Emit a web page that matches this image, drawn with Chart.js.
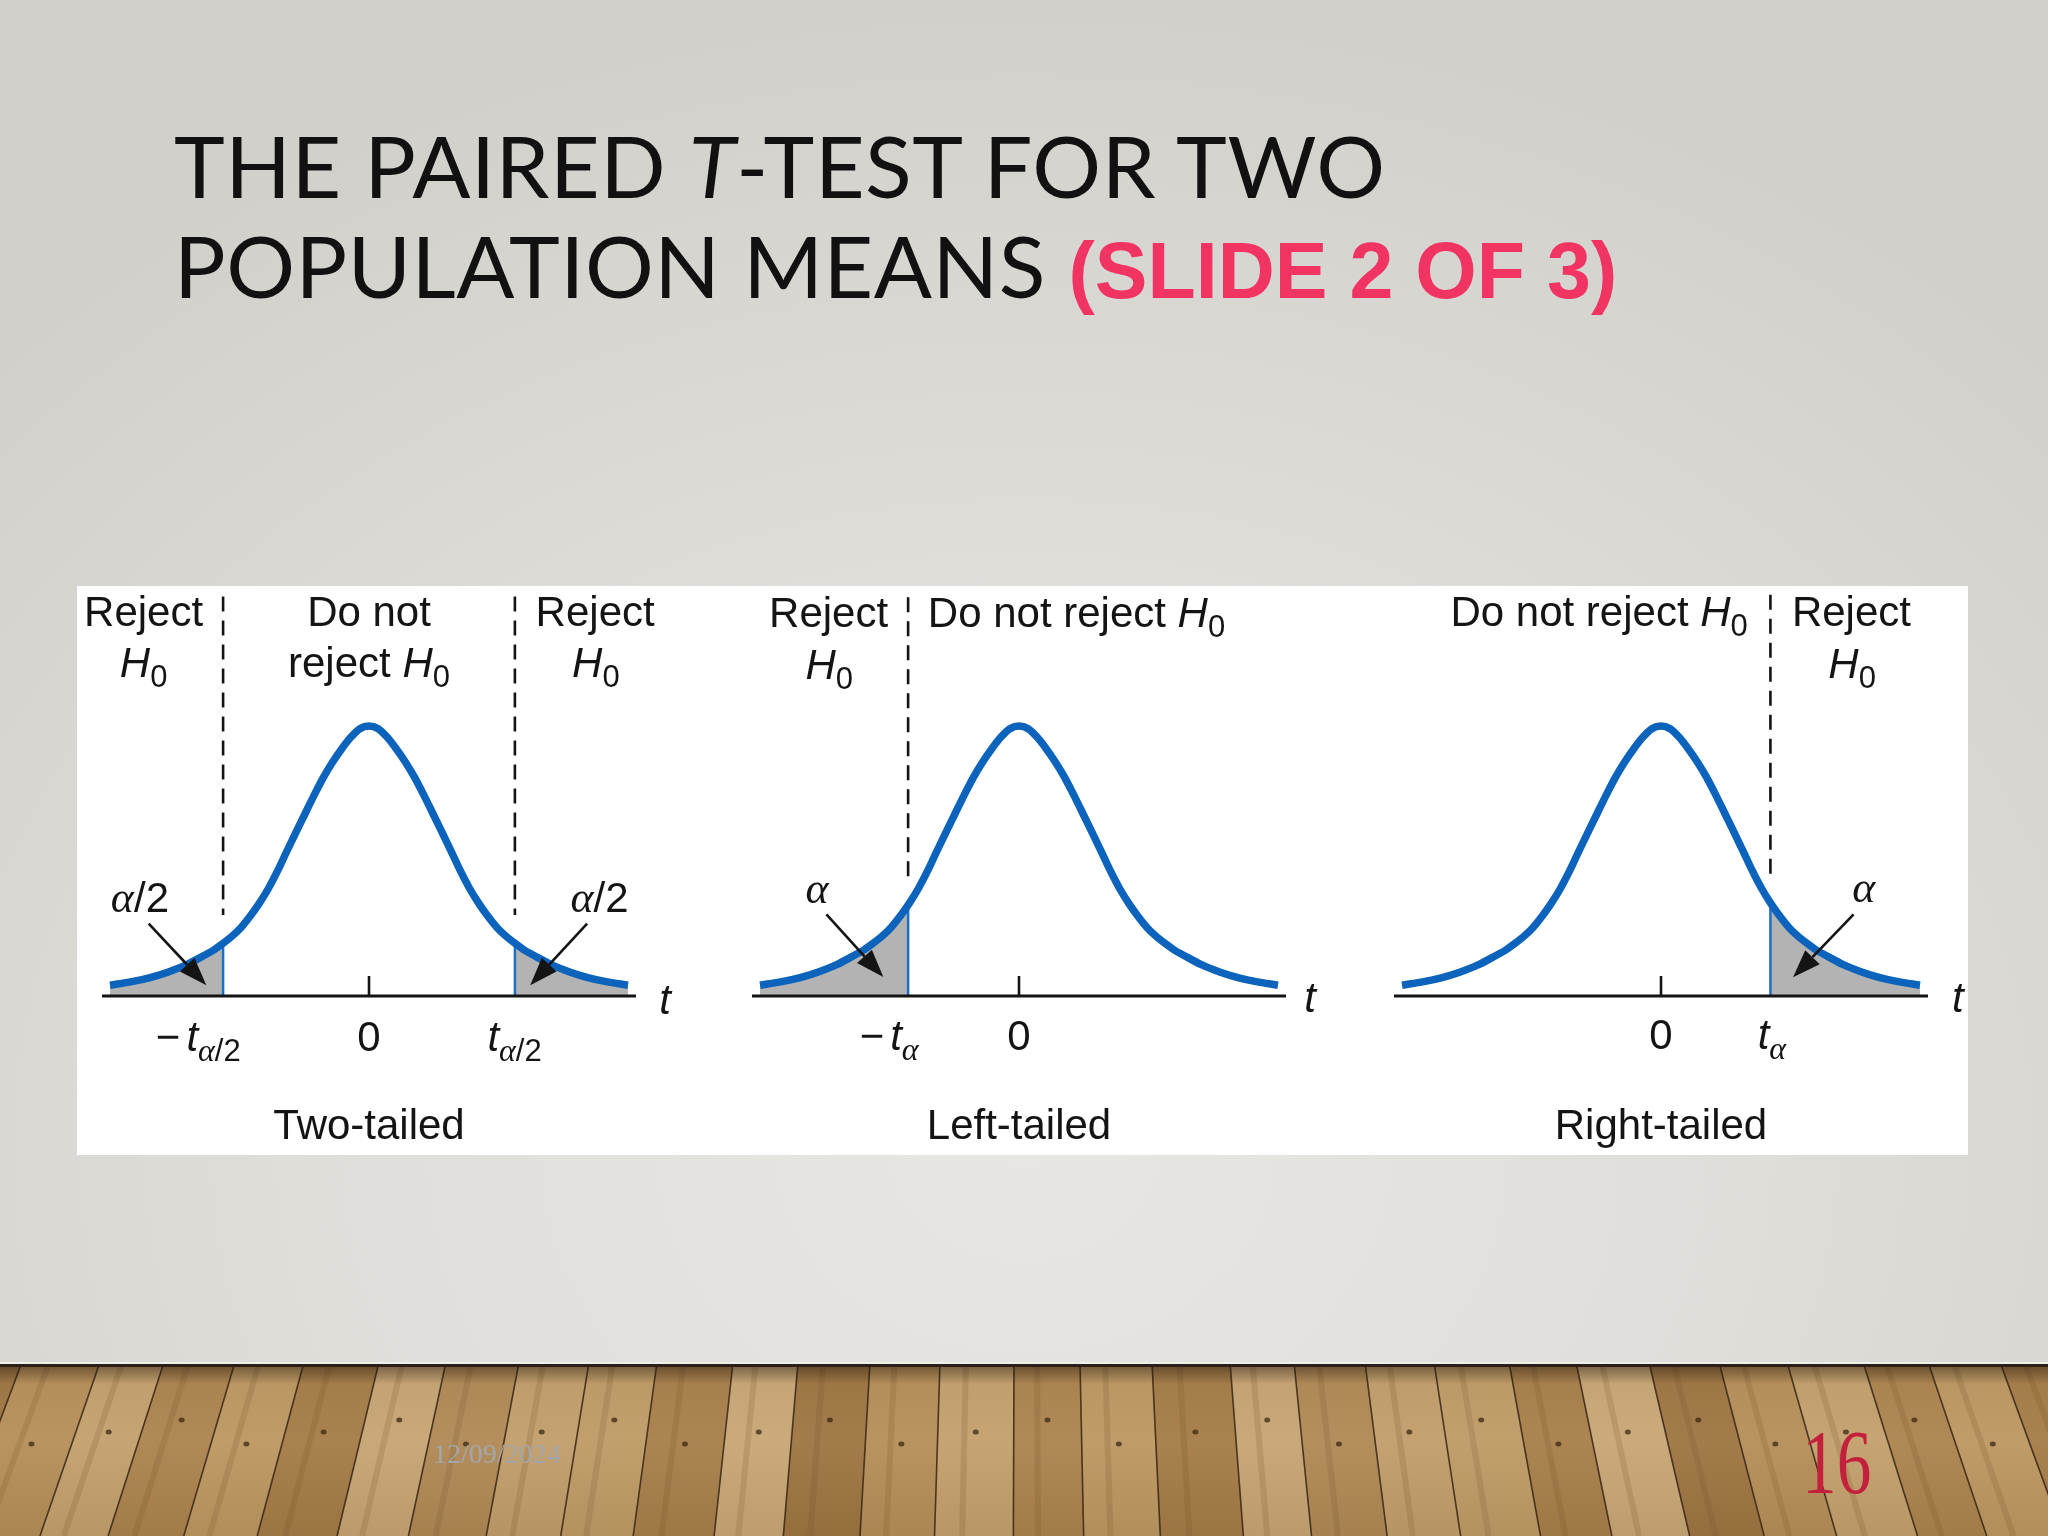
<!DOCTYPE html>
<html><head><meta charset="utf-8">
<script src="https://cdn.jsdelivr.net/npm/chart.js@4.4.1/dist/chart.umd.min.js"></script>
<style>
html,body{margin:0;padding:0;}
body{width:2048px;height:1536px;position:relative;overflow:hidden;
 background: radial-gradient(ellipse 70% 75% at 50% 75%, #e8e6e2 0%, #e1dfdb 45%, #d2d0cb 100%);}
.tl{position:absolute;left:174px;font-family:Lato,'Open Sans',sans-serif;font-size:86px;line-height:86px;color:#111;white-space:nowrap;}
.bk{letter-spacing:0.55px;}
.red{font-family:'Liberation Sans',Arial,sans-serif;font-weight:bold;font-size:79px;color:#f23462;letter-spacing:0;}
#panel{position:absolute;left:77px;top:586px;width:1891px;height:569px;background:#fff;}
canvas.ch{position:absolute;top:586px;}
#floor{position:absolute;left:0;top:1362px;}
#date{position:absolute;left:433px;top:1440px;font-family:'Liberation Serif',serif;font-size:28px;line-height:28px;color:#a3a7ab;}
#page{position:absolute;left:1802px;top:1418px;font-family:'Liberation Serif',serif;font-size:90px;line-height:90px;color:#c41f3c;transform:scaleX(0.77);transform-origin:left top;}
</style></head>
<body>
<div class="tl bk" id="t1" style="top:122px">THE PAIRED <i>T</i>-TEST FOR TWO</div>
<div class="tl" id="t2" style="top:222px"><span class="bk">POPULATION MEANS </span><span class="red">(SLIDE 2 OF 3)</span></div>
<div id="panel"></div>
<canvas class="ch" id="c1" width="640" height="569" style="left:72px"></canvas>
<canvas class="ch" id="c2" width="640" height="569" style="left:722px"></canvas>
<canvas class="ch" id="c3" width="640" height="569" style="left:1364px"></canvas>
<canvas id="floor" width="2048" height="174"></canvas>
<div id="date">12/09/2024</div>
<div id="page">16</div>
<script>
// ---- data (t-distribution curve, relative height) ----
const curveX = [-3.55,-3.25,-3,-2.75,-2.5,-2.25,-2.125,-2,-1.875,-1.75,-1.625,-1.5,-1.375,-1.25,-1.125,-1,-0.875,-0.75,-0.625,-0.5,-0.375,-0.25,-0.125,
                0,0.125,0.25,0.375,0.5,0.625,0.75,0.875,1,1.125,1.25,1.375,1.5,1.625,1.75,1.875,2,2.125,2.25,2.5,2.75,3,3.25,3.55];
const curveY = [0.040,0.053,0.068,0.089,0.116,0.152,0.171,0.195,0.222,0.255,0.297,0.345,0.400,0.465,0.537,0.607,0.676,0.745,0.810,0.866,0.915,0.958,0.990,
                1.000,0.990,0.958,0.915,0.866,0.810,0.745,0.676,0.607,0.537,0.465,0.400,0.345,0.297,0.255,0.222,0.195,0.171,0.152,0.116,0.089,0.068,0.053,0.040];
const chartNames = ['Two-tailed','Left-tailed','Right-tailed'];
const critValues = [[-2.0, 2.0], [-1.52], [1.50]];
const critHeights = [[0.188, 0.188], [0.333], [0.335]];
const dashTops = [[1.48, 1.48], [1.477], [1.486]];
const dashBottoms = [[0.30, 0.30], [0.439], [0.439]];
const axisRange = [-3.66, 3.66];
const tickLabels = [['−tα/2','0','tα/2'], ['−tα','0'], ['0','tα']];

const BLUE = '#0b63bc', INK = '#141414';
const SANS = "'Liberation Sans', Arial, sans-serif";
const SERIF = "'Liberation Serif', 'Times New Roman', serif";

function pts(xs, ys){ return xs.map((x,i)=>({x:x, y:ys[i]})); }

// tail area: curve points beyond the critical value plus the curve height at it
function tail(c, h){
  const left = c < 0;
  const p = [];
  curveX.forEach((x,i)=>{ if (left ? x < c - 0.01 : x > c + 0.01) p.push({x:x, y:curveY[i]}); });
  if (left) p.push({x:c, y:h}); else p.unshift({x:c, y:h});
  return p;
}

// ---- rich text annotations (layout) ----
const F = {
  r: '42px ' + SANS, i: 'italic 42px ' + SANS, a: 'italic 44px ' + SERIF,
  sr: '31px ' + SANS, si: 'italic 32px ' + SERIF
};
const SUB = 10;
const H0 = [{t:'H', f:'i'}, {t:'0', f:'sr', sub:1}];
const notesFor = [
  { texts: [
      {x:-3.09, y:1.370, s:[{t:'Reject', f:'r'}]},
      {x:-3.09, y:1.181, s:H0},
      {x:0, y:1.370, s:[{t:'Do not', f:'r'}]},
      {x:0, y:1.181, s:[{t:'reject ', f:'r'}].concat(H0)},
      {x:3.10, y:1.370, s:[{t:'Reject', f:'r'}]},
      {x:3.11, y:1.181, s:H0},
      {x:-3.14, y:0.311, s:[{t:'α', f:'a'}, {t:'/2', f:'r'}]},
      {x:3.16, y:0.311, s:[{t:'α', f:'a'}, {t:'/2', f:'r'}]},
      {x:-2.34, y:-0.204, s:[{t:'−', f:'r', gap:6}, {t:'t', f:'i'}, {t:'α', f:'si', sub:1}, {t:'/2', f:'sr', sub:1}]},
      {x:0, y:-0.204, s:[{t:'0', f:'r'}]},
      {x:1.995, y:-0.204, s:[{t:'t', f:'i'}, {t:'α', f:'si', sub:1}, {t:'/2', f:'sr', sub:1}]},
      {x:4.06, y:-0.065, s:[{t:'t', f:'i'}]}
    ],
    arrows: [[-3.02,0.268,-2.23,0.040],[2.99,0.268,2.21,0.040]] },
  { texts: [
      {x:-2.61, y:1.367, s:[{t:'Reject', f:'r'}]},
      {x:-2.60, y:1.175, s:H0},
      {x:-1.25, y:1.367, align:'left', s:[{t:'Do not reject ', f:'r'}].concat(H0)},
      {x:-2.77, y:0.344, s:[{t:'α', f:'a'}]},
      {x:-1.78, y:-0.200, s:[{t:'−', f:'r', gap:6}, {t:'t', f:'i'}, {t:'α', f:'si', sub:1}]},
      {x:0, y:-0.200, s:[{t:'0', f:'r'}]},
      {x:3.99, y:-0.060, s:[{t:'t', f:'i'}]}
    ],
    arrows: [[-2.64,0.302,-1.86,0.070]] },
  { texts: [
      {x:1.19, y:1.370, align:'right', s:[{t:'Do not reject ', f:'r'}].concat(H0)},
      {x:2.61, y:1.370, s:[{t:'Reject', f:'r'}]},
      {x:2.62, y:1.178, s:H0},
      {x:2.78, y:0.350, s:[{t:'α', f:'a'}]},
      {x:0, y:-0.196, s:[{t:'0', f:'r'}]},
      {x:1.52, y:-0.196, s:[{t:'t', f:'i'}, {t:'α', f:'si', sub:1}]},
      {x:4.07, y:-0.060, s:[{t:'t', f:'i'}]}
    ],
    arrows: [[2.64,0.302,1.81,0.069]] }
];

function drawRich(ctx, x, y, segs, align){
  let w = 0;
  const ws = segs.map(s=>{ ctx.font = F[s.f]; const m = ctx.measureText(s.t).width + (s.gap || 0); w += m; return m; });
  let sx = align === 'left' ? x : align === 'right' ? x - w : x - w/2;
  segs.forEach((s,i)=>{ ctx.font = F[s.f]; ctx.fillText(s.t, sx, y + (s.sub ? SUB : 0)); sx += ws[i]; });
}

const notesPlugin = {
  id: 'notes',
  afterDraw(chart){
    const n = chart.options.plugins.notes;
    const ctx = chart.ctx, xs = chart.scales.x, ys = chart.scales.y;
    ctx.save();
    ctx.fillStyle = INK; ctx.strokeStyle = INK; ctx.textBaseline = 'alphabetic'; ctx.textAlign = 'left';
    n.texts.forEach(t=>drawRich(ctx, xs.getPixelForValue(t.x), ys.getPixelForValue(t.y), t.s, t.align));
    n.arrows.forEach(a=>{
      const x1 = xs.getPixelForValue(a[0]), y1 = ys.getPixelForValue(a[1]);
      const x2 = xs.getPixelForValue(a[2]), y2 = ys.getPixelForValue(a[3]);
      const ang = Math.atan2(y2-y1, x2-x1), L = 28, W = 10;
      const bx = x2 - L*Math.cos(ang), by = y2 - L*Math.sin(ang);
      ctx.lineWidth = 2.6;
      ctx.beginPath(); ctx.moveTo(x1,y1); ctx.lineTo(bx,by); ctx.stroke();
      ctx.beginPath(); ctx.moveTo(x2,y2);
      ctx.lineTo(bx + W*Math.sin(ang), by - W*Math.cos(ang));
      ctx.lineTo(bx - W*Math.sin(ang), by + W*Math.cos(ang));
      ctx.closePath(); ctx.fill();
    });
    ctx.restore();
  }
};

function build(k){
  const ds = [];
  ds.push({label:'curve', data:pts(curveX, curveY), borderColor:BLUE, borderWidth:7.5,
           cubicInterpolationMode:'monotone', fill:false, clip:false, order:0, pointRadius:0});
  critValues[k].forEach((c,j)=>{
    ds.push({label:'tail', data:tail(c, critHeights[k][j]), borderWidth:0, borderColor:'rgba(0,0,0,0)',
             backgroundColor:'#b3b3b3', fill:'origin', cubicInterpolationMode:'monotone', clip:false, order:6, pointRadius:0});
    ds.push({label:'crit', data:[{x:c,y:0},{x:c,y:critHeights[k][j]}], borderColor:'#1c6fc6', borderWidth:2.5, fill:false, clip:false, order:3, pointRadius:0});
    ds.push({label:'dash', data:[{x:c,y:dashTops[k][j]},{x:c,y:dashBottoms[k][j]}], borderColor:INK, borderWidth:2.6,
             borderDash:[15,9], fill:false, clip:false, order:4, pointRadius:0});
  });
  ds.push({label:'axis', data:[{x:axisRange[0],y:0},{x:axisRange[1],y:0}], borderColor:INK, borderWidth:3, fill:false, clip:false, order:2, pointRadius:0});
  ds.push({label:'zero', data:[{x:0,y:0},{x:0,y:0.074}], borderColor:INK, borderWidth:2.6, fill:false, clip:false, order:2, pointRadius:0});

  new Chart(document.getElementById('c'+(k+1)), {
    type:'line',
    data:{datasets:ds},
    options:{
      responsive:false, animation:false, devicePixelRatio:1,
      layout:{padding:{left:30, right:76, top:5, bottom:2.6}},
      scales:{
        x:{type:'linear', min:axisRange[0], max:axisRange[1], display:false},
        y:{type:'linear', min:0, max:1.5, display:false}
      },
      plugins:{
        legend:{display:false}, tooltip:{enabled:false},
        title:{display:true, position:'bottom', text:chartNames[k], color:INK,
               font:{family:SANS, size:42, weight:'normal', lineHeight:1.2}, padding:{top:106, bottom:0}},
        notes: notesFor[k]
      }
    },
    plugins:[notesPlugin]
  });
}
[0,1,2].forEach(build);

// ---- decorative wooden floor ----
(function(){
  const cv = document.getElementById('floor'), g = cv.getContext('2d');
  const W = 2048, H = 174, cx = 1024, k = 1.065;
  const widths = [70,74,66,72,78,64,71,69,75,67,73,70,68,76,65,72];
  const cols = ['#c2a06d','#ad8553','#cbab7c','#a47c4b','#ba9460','#c6a473','#b08956','#bf9c68','#a9824f','#c9a879','#b48f5d','#c4a271'];
  let x = -260, i = 0;
  const tops = [];
  while (x < W + 260){ tops.push(x); x += widths[i % widths.length]; i++; }
  tops.push(x);
  for (let j = 0; j < tops.length - 1; j++){
    const a = tops[j], b = tops[j+1];
    const ab = cx + (a-cx)*k, bb = cx + (b-cx)*k;
    const col = cols[j % cols.length];
    const gr = g.createLinearGradient(0,0,0,H);
    gr.addColorStop(0, shade(col, -8)); gr.addColorStop(0.45, col); gr.addColorStop(1, shade(col, -14));
    g.fillStyle = gr;
    g.beginPath(); g.moveTo(a,0); g.lineTo(b,0); g.lineTo(bb,H); g.lineTo(ab,H); g.closePath(); g.fill();
    g.strokeStyle = 'rgba(110,75,40,0.18)'; g.lineWidth = 6;
    const m1 = a + (b-a)*0.35, m2 = ab + (bb-ab)*0.35;
    g.beginPath(); g.moveTo(m1,0); g.lineTo(m2,H); g.stroke();
    g.strokeStyle = 'rgba(50,35,20,0.85)'; g.lineWidth = 1.6;
    g.beginPath(); g.moveTo(a,0); g.lineTo(ab,H); g.stroke();
    g.fillStyle = 'rgba(60,40,20,0.75)';
    const yy = [58, 82, 70][j % 3];
    const t = yy / H; const xl = a + (ab - a)*t, xr = b + (bb - b)*t;
    g.beginPath(); g.ellipse(xl + (xr-xl)*0.5, yy, 3, 2.5, 0, 0, Math.PI*2); g.fill();
  }
  function shade(hex, d){
    const n = parseInt(hex.slice(1),16);
    const r = Math.max(0,Math.min(255,(n>>16)+d)), gg = Math.max(0,Math.min(255,((n>>8)&255)+d)), b = Math.max(0,Math.min(255,(n&255)+d));
    return 'rgb('+r+','+gg+','+b+')';
  }
  const sh = g.createLinearGradient(0,0,0,22);
  sh.addColorStop(0,'rgba(30,20,10,0.55)'); sh.addColorStop(1,'rgba(30,20,10,0)');
  g.fillStyle = sh; g.fillRect(0,0,W,22);
  g.fillStyle = '#2a2018'; g.fillRect(0,2,W,3);
  g.fillStyle = '#f0eee9'; g.fillRect(0,0,W,2);
})();
</script>
</body></html>
